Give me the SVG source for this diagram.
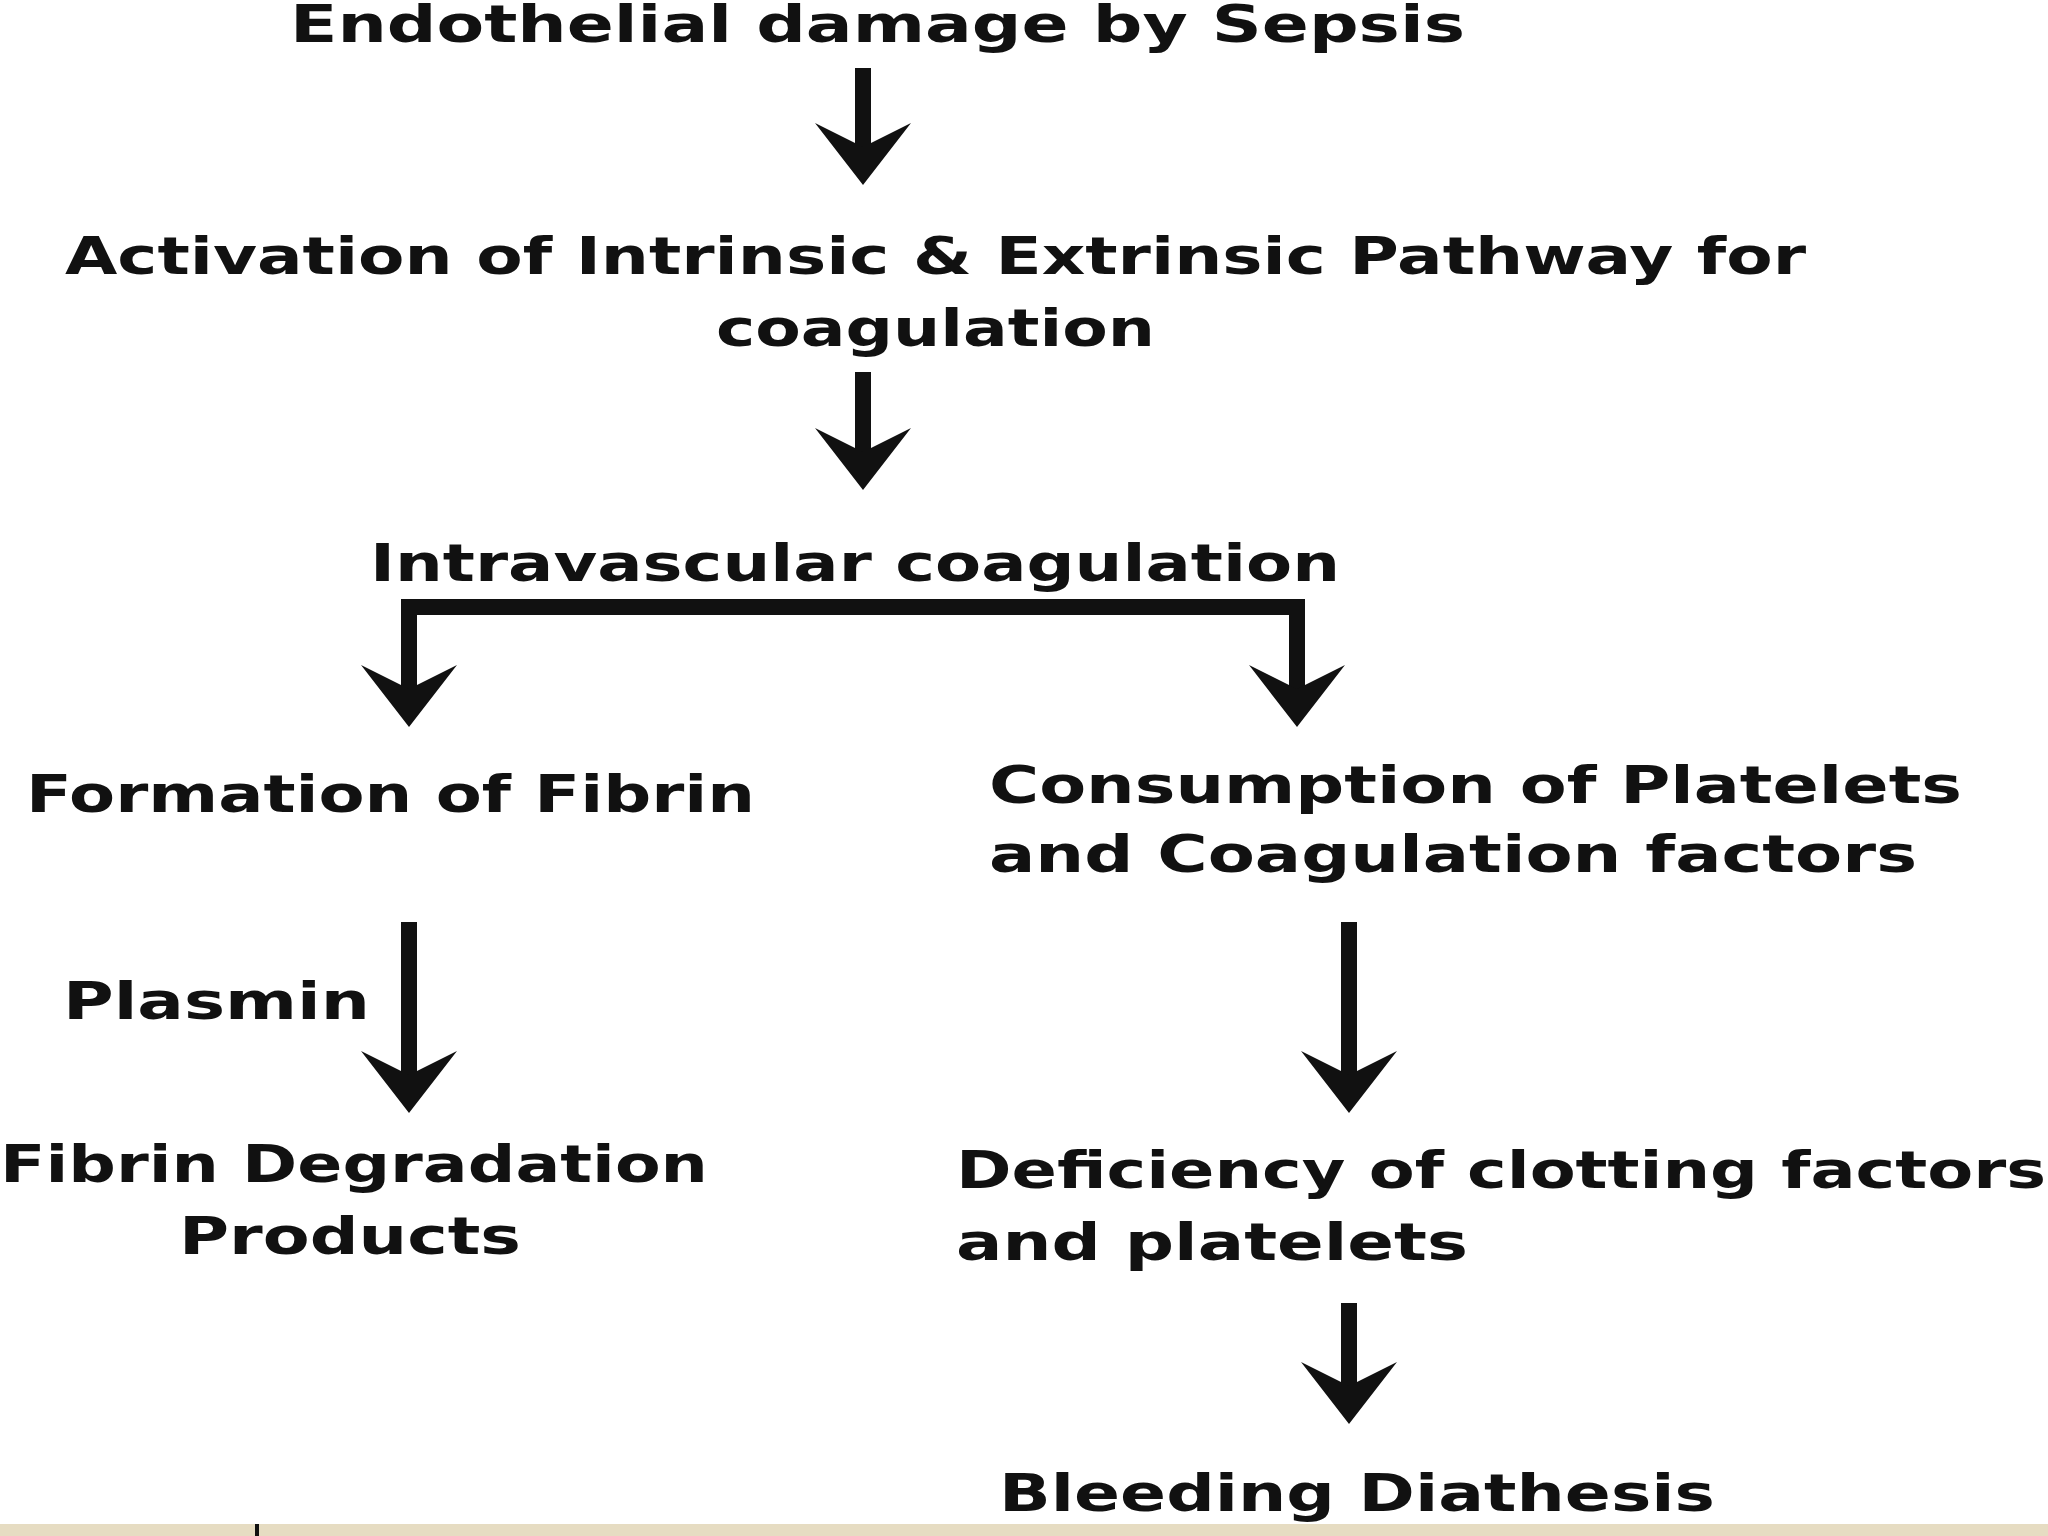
<svg xmlns="http://www.w3.org/2000/svg" width="2048" height="1536" viewBox="0 0 2048 1536">
<style>
text{font-family:"DejaVu Sans","Liberation Sans",sans-serif;font-size:52px;font-weight:bold;fill:#111}
.s{stroke:#111;stroke-width:16;fill:none}
</style>
<defs>
<path id="ah" d="M0,0 L-48,-62 L0,-38 L48,-62 Z" fill="#111"/>
</defs>
<rect width="2048" height="1536" fill="#fff"/>
<rect y="1524" width="2048" height="12" fill="#e6dcc2"/>
<rect x="255" y="1524" width="4" height="12" fill="#111"/>
<g id="n1"><text x="290" y="42" textLength="1175" lengthAdjust="spacingAndGlyphs">Endothelial damage by Sepsis</text></g>
<g id="n2"><text x="65" y="274" textLength="1741" lengthAdjust="spacingAndGlyphs">Activation of Intrinsic &amp; Extrinsic Pathway for</text>
<text x="716" y="346" textLength="439" lengthAdjust="spacingAndGlyphs">coagulation</text></g>
<g id="n3"><text x="370" y="581" textLength="970" lengthAdjust="spacingAndGlyphs">Intravascular coagulation</text></g>
<g id="n4"><text x="26" y="812" textLength="729" lengthAdjust="spacingAndGlyphs">Formation of Fibrin</text></g>
<g id="n5"><text x="989" y="803" textLength="973" lengthAdjust="spacingAndGlyphs">Consumption of Platelets</text>
<text x="989" y="872" textLength="928" lengthAdjust="spacingAndGlyphs">and Coagulation factors</text></g>
<g id="n6"><text x="0" y="1182" textLength="708" lengthAdjust="spacingAndGlyphs">Fibrin Degradation</text>
<text x="179" y="1254" textLength="342" lengthAdjust="spacingAndGlyphs">Products</text></g>
<g id="n7"><text x="956" y="1188" textLength="1090" lengthAdjust="spacingAndGlyphs">Deficiency of clotting factors</text>
<text x="956" y="1260" textLength="512" lengthAdjust="spacingAndGlyphs">and platelets</text></g>
<g id="n8"><text x="999" y="1511" textLength="716" lengthAdjust="spacingAndGlyphs">Bleeding Diathesis</text></g>
<g id="connectors">
<path class="s" d="M863,68 V160"/><use href="#ah" x="863" y="185"/>
<path class="s" d="M863,372 V465"/><use href="#ah" x="863" y="490"/>
<path class="s" d="M409,702 V607 H1297 V702"/>
<use href="#ah" x="409" y="727"/><use href="#ah" x="1297" y="727"/>
<path class="s" d="M409,922 V1088"/><use href="#ah" x="409" y="1113"/>
<text x="63" y="1019" textLength="307" lengthAdjust="spacingAndGlyphs">Plasmin</text>
<path class="s" d="M1349,922 V1088"/><use href="#ah" x="1349" y="1113"/>
<path class="s" d="M1349,1303 V1399"/><use href="#ah" x="1349" y="1424"/>
</g>
</svg>
